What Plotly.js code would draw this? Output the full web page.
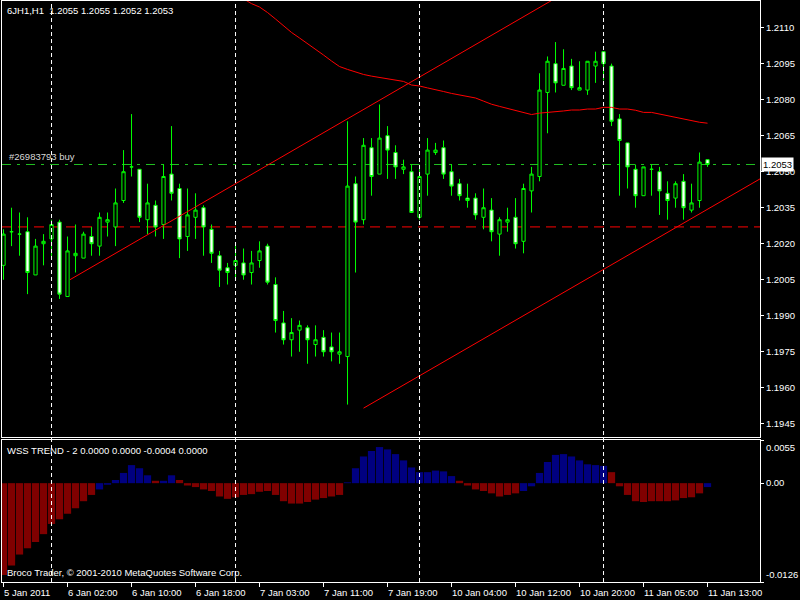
<!DOCTYPE html>
<html><head><meta charset="utf-8">
<script src="https://cdn.plot.ly/plotly-3.0.1.min.js"></script>
<style>html,body{margin:0;padding:0;background:#000;}#chart{width:800px;height:600px;}</style>
</head><body><div id="chart"></div>
<script>
// ---------- data ----------
const symbolTitle = '6JH1,H1\u00a0 1.2055 1.2055 1.2052 1.2053';
const indicatorTitle = 'WSS TREND - 2 0.0000 0.0000 -0.0004 0.0000';
const copyrightText = 'Broco Trader, \u00a9 2001-2010 MetaQuotes Software Corp.';
const orderLabel = '#26983793 buy';

const opens = [1.2011,1.2025,1.2024,1.2025,1.2007,1.2020,1.2022,1.2029,1.1998,1.2015,
1.2014,1.2023,1.2019,1.2029,1.2027,1.2038,1.2052,1.2051,1.2030,1.2036,
1.2028,1.2049,1.2043,1.2023,1.2031,1.2035,1.2026,1.2015,1.2010,1.2011,
1.2012,1.2008,1.2013,1.2019,1.2003,1.1987,1.1980,1.1984,1.1985,1.1978,
1.1981,1.1977,1.1974,1.1973,1.2045,1.2030,1.2060,1.2049,1.2065,1.2058,
1.2051,1.2050,1.2031,1.2049,1.2058,1.2060,1.2050,1.2045,1.2039,1.2039,
1.2031,1.2034,1.2024,1.2029,1.2031,1.2021,1.2042,1.2048,1.2083,1.2095,
1.2086,1.2094,1.2084,1.2084,1.2094,1.2100,1.2094,1.2072,1.2062,1.2051,
1.2040,1.2051,1.2050,1.2041,1.2039,1.2046,1.2034,1.2038,1.2055];
const highs = [1.2026,1.2035,1.2033,1.2031,1.2022,1.2024,1.2030,1.2030,1.2023,1.2028,
1.2025,1.2027,1.2033,1.2033,1.2043,1.2059,1.2074,1.2051,1.2045,1.2038,
1.2053,1.2069,1.2045,1.2043,1.2041,1.2036,1.2028,1.2017,1.2012,1.2020,
1.2018,1.2017,1.2021,1.2020,1.2006,1.1992,1.1989,1.1988,1.1986,1.1986,
1.1984,1.1983,1.1983,1.2071,1.2048,1.2064,1.2064,1.2078,1.2069,1.2061,
1.2055,1.2053,1.2053,1.2064,1.2062,1.2063,1.2053,1.2047,1.2045,1.2041,
1.2043,1.2039,1.2031,1.2035,1.2039,1.2045,1.2052,1.2091,1.2098,1.2104,
1.2101,1.2097,1.2096,1.2096,1.2100,1.2100,1.2095,1.2074,1.2062,1.2053,
1.2052,1.2053,1.2052,1.2046,1.2046,1.2049,1.2045,1.2058,1.2055];
const lows = [1.2005,1.2019,1.2015,1.1999,1.2007,1.2011,1.2014,1.1997,1.1998,1.2008,
1.2014,1.2015,1.2015,1.2023,1.2019,1.2037,1.2048,1.2029,1.2024,1.2023,
1.2022,1.2038,1.2014,1.2017,1.2022,1.2015,1.2012,1.2002,1.2003,1.2005,
1.2005,1.2003,1.2010,1.2003,1.1983,1.1978,1.1973,1.1975,1.1970,1.1973,
1.1973,1.1971,1.1970,1.1953,1.2008,1.2028,1.2040,1.2049,1.2047,1.2047,
1.2049,1.2033,1.2030,1.2040,1.2057,1.2047,1.2040,1.2038,1.2035,1.2030,
1.2026,1.2021,1.2015,1.2025,1.2018,1.2016,1.2033,1.2046,1.2066,1.2083,
1.2086,1.2084,1.2084,1.2082,1.2087,1.2088,1.2069,1.2040,1.2043,1.2035,
1.2040,1.2040,1.2032,1.2030,1.2035,1.2030,1.2033,1.2035,1.2052];
const closes = [1.2024,1.2025,1.2024,1.2008,1.2019,1.2021,1.2028,1.1999,1.2017,1.2016,
1.2024,1.2020,1.2031,1.2030,1.2037,1.2050,1.2052,1.2031,1.2037,1.2027,
1.2048,1.2041,1.2022,1.2032,1.2034,1.2027,1.2016,1.2009,1.2008,1.2013,
1.2007,1.2012,1.2017,1.2004,1.1988,1.1980,1.1983,1.1986,1.1980,1.1980,
1.1975,1.1975,1.1975,1.2044,1.2029,1.2061,1.2048,1.2064,1.2059,1.2052,
1.2052,1.2033,1.2048,1.2059,1.2059,1.2049,1.2044,1.2040,1.2038,1.2032,
1.2035,1.2025,1.2030,1.2030,1.2020,1.2043,1.2049,1.2084,1.2096,1.2087,
1.2093,1.2085,1.2085,1.2096,1.2096,1.2095,1.2071,1.2063,1.2052,1.2040,
1.2052,1.2051,1.2042,1.2038,1.2045,1.2035,1.2037,1.2054,1.2053];

// moving average, first value at bar maStartBar
const maStartBar = 30;
const maValues = [1.2122,1.2120,1.21186,1.21163,1.21136,1.21107,1.2108,1.21057,1.21034,1.21011,
1.20986,1.20961,1.20938,1.20926,1.20915,1.20905,1.20898,1.20892,1.20886,1.20881,
1.20876,1.20861,1.20857,1.20849,1.20843,1.20834,1.20826,1.20819,1.20815,1.20807,
1.20794,1.20781,1.20772,1.20763,1.20753,1.20744,1.20738,1.20744,1.20747,1.20747,
1.20753,1.20757,1.20757,1.20761,1.20761,1.20768,1.20768,1.20761,1.20761,1.20756,
1.20747,1.20747,1.2074,1.20733,1.20725,1.20719,1.20711,1.20706,1.20702];

// trend channel anchors (bar position, price)
const upperLineBars = [8.3, 70];
const upperLinePrices = [1.2005, 1.21242];
const lowerLineBars = [45, 94.56];
const lowerLinePrices = [1.19515, 1.2047];

const orderPrice = 1.2053;
const stopPrice = 1.2027;
const bidPrice = 1.2053;
const bidLabel = '1.2053';

const daySeparatorBars = [6, 29, 52, 75];

const priceTicks = [1.1945,1.1960,1.1975,1.1990,1.2005,1.2020,1.2035,1.2050,1.2065,1.2080,1.2095,1.2110];
const priceTickLabels = ['1.1945','1.1960','1.1975','1.1990','1.2005','1.2020','1.2035','1.2050','1.2065','1.2080','1.2095','1.2110'];

const timeTickBars = [0,8,16,24,32,40,48,56,64,72,80,88];
const timeTickLabels = ['5 Jan 2011','6 Jan 02:00','6 Jan 10:00','6 Jan 18:00','7 Jan 03:00','7 Jan 11:00',
'7 Jan 19:00','10 Jan 04:00','10 Jan 12:00','10 Jan 20:00','11 Jan 05:00','11 Jan 13:00'];

// WSS TREND histogram
const trendValues = [-0.0117,-0.0105,-0.0091,-0.0083,-0.0075,-0.0065,-0.0052,-0.0046,-0.0039,-0.0032,
-0.0023,-0.0015,-0.0008,-0.0002,0.0004,0.0013,0.0023,0.0019,0.0010,0.0003,
0.0003,0.0010,0.0004,-0.0003,-0.0005,-0.0008,-0.0010,-0.0017,-0.0020,-0.0018,
-0.0015,-0.0014,-0.0011,-0.0010,-0.0015,-0.0023,-0.0026,-0.0026,-0.0024,-0.0021,
-0.0019,-0.0017,-0.0015,0.0001,0.0019,0.0034,0.0041,0.0046,0.0043,0.0037,
0.0029,0.0020,0.0014,0.0014,0.0016,0.0015,0.0009,0.0003,-0.0003,-0.0008,
-0.0010,-0.0013,-0.0017,-0.0015,-0.0013,-0.0010,-0.0004,0.0013,0.0027,0.0036,
0.0037,0.0034,0.0029,0.0024,0.0023,0.0022,0.0014,-0.0004,-0.0015,-0.0023,
-0.0024,-0.0023,-0.0023,-0.0023,-0.0022,-0.0019,-0.0018,-0.0013,-0.0005];
const trendState = 'dddddddddddduuuuuuuduuddddddddddddddddddddduuuuuuuuuuuuuudddddddduuuuuuuuuuudddddddddddduu'.split('');
const trendAxisTicks = [-0.0126, 0, 0.0055];
const trendAxisLabels = ['-0.0126', '0.00', '0.0055'];

// ---------- build ----------
const bars = opens.map((_, i) => i);
const maBars = maValues.map((_, i) => maStartBar + i);
const FONT = 'Liberation Sans, Arial, sans-serif';
const BULL = '#00ff00';

const traces = [
  {type:'candlestick', x:bars, open:opens, high:highs, low:lows, close:closes,
   xaxis:'x', yaxis:'y', whiskerwidth:0, hoverinfo:'skip',
   increasing:{line:{color:BULL, width:1}, fillcolor:'#000000'},
   decreasing:{line:{color:BULL, width:1}, fillcolor:'#ffffff'}},
  {type:'scatter', mode:'lines', x:maBars, y:maValues, xaxis:'x', yaxis:'y',
   line:{color:'#ff0000', width:1}, hoverinfo:'skip'},
  {type:'scatter', mode:'lines', x:upperLineBars, y:upperLinePrices, xaxis:'x', yaxis:'y',
   line:{color:'#ff0000', width:1}, hoverinfo:'skip'},
  {type:'scatter', mode:'lines', x:lowerLineBars, y:lowerLinePrices, xaxis:'x', yaxis:'y',
   line:{color:'#ff0000', width:1}, hoverinfo:'skip'},
  {type:'bar', x:bars, y:trendValues, xaxis:'x2', yaxis:'y2', width:0.9,
   marker:{color:trendState.map(s => s === 'u' ? '#000080' : '#800000'), line:{width:0}},
   hoverinfo:'skip'}
];

const shapes = [];
daySeparatorBars.forEach(b => shapes.push({type:'line', xref:'x', yref:'paper', x0:b, x1:b, y0:0, y1:1,
  line:{color:'#ffffff', width:1, dash:'4px,3px'}, layer:'above'}));
shapes.push({type:'line', xref:'paper', yref:'y', x0:0, x1:1, y0:orderPrice, y1:orderPrice,
  line:{color:'#22c022', width:1, dash:'9px,6px,3px,6px'}, layer:'below'});
shapes.push({type:'line', xref:'paper', yref:'y', x0:0, x1:1, y0:stopPrice, y1:stopPrice,
  line:{color:'#ff0000', width:1, dash:'10px,6px'}, layer:'below'});

const txt = (size, color) => ({family:FONT, size:size, color:color});
const annotations = [
  {text:symbolTitle, xref:'paper', yref:'paper', x:0, y:1, xanchor:'left', yanchor:'top',
   xshift:3, yshift:-2, showarrow:false, font:txt(9.5,'#ffffff')},
  {text:indicatorTitle, xref:'paper', yref:'y2 domain', x:0, y:1, xanchor:'left', yanchor:'top',
   xshift:3, yshift:-3, showarrow:false, font:txt(9.5,'#ffffff')},
  {text:copyrightText, xref:'paper', yref:'y2 domain', x:0, y:0, xanchor:'left', yanchor:'bottom',
   xshift:3, yshift:2, showarrow:false, font:txt(9.5,'#ffffff')},
  {text:orderLabel, xref:'paper', yref:'y', x:0, y:orderPrice, xanchor:'left', yanchor:'bottom',
   xshift:5, yshift:0, showarrow:false, font:txt(9.5,'#d8d8d8')},
  {text:bidLabel, xref:'paper', yref:'y', x:1, y:bidPrice, xanchor:'left', yanchor:'middle',
   xshift:1, showarrow:false, bgcolor:'#ffffff', borderpad:1, font:txt(9.5,'#000000')},
  {text:trendAxisLabels[2], xref:'paper', yref:'y2', x:1, y:trendAxisTicks[2], xanchor:'left', yanchor:'top',
   xshift:4, yshift:0, showarrow:false, font:txt(9.5,'#ffffff')},
  {text:trendAxisLabels[0], xref:'paper', yref:'y2', x:1, y:trendAxisTicks[0], xanchor:'left', yanchor:'bottom',
   xshift:4, yshift:0, showarrow:false, font:txt(9.5,'#ffffff')}
];
timeTickBars.forEach((b, i) => annotations.push({text:timeTickLabels[i], xref:'x2', yref:'paper', x:b, y:0,
  xanchor:'left', yanchor:'top', xshift:-2, yshift:-3, showarrow:false, font:txt(9.5,'#ffffff')}));

const axisCommon = {showgrid:false, zeroline:false, showline:true, mirror:true, linecolor:'#ffffff', linewidth:1};
const layout = {
  width:800, height:600, paper_bgcolor:'#000000', plot_bgcolor:'#000000',
  margin:{l:2, r:40, t:1, b:18}, showlegend:false, dragmode:false, boxgap:0.42,
  xaxis:Object.assign({}, axisCommon, {anchor:'y', range:[-0.19, 94.56], showticklabels:false, ticks:'',
    rangeslider:{visible:false}, fixedrange:true}),
  xaxis2:Object.assign({}, axisCommon, {anchor:'y2', matches:'x', range:[-0.19, 94.56], showticklabels:false,
    ticks:'outside', ticklen:4, tickcolor:'#ffffff', tickvals:timeTickBars, fixedrange:true}),
  yaxis:Object.assign({}, axisCommon, {domain:[0.2496, 1], side:'right', anchor:'x', range:[1.19395, 1.21211],
    tickvals:priceTicks, ticktext:priceTickLabels, ticks:'outside', ticklen:3, tickcolor:'#ffffff',
    tickfont:txt(9.5,'#ffffff'), fixedrange:true}),
  yaxis2:Object.assign({}, axisCommon, {domain:[0, 0.2444], side:'right', anchor:'x2', range:[-0.0126, 0.0055],
    tickvals:trendAxisTicks, ticktext:['', trendAxisLabels[1], ''], ticks:'outside', ticklen:3, tickcolor:'#ffffff',
    tickfont:txt(9.5,'#ffffff'), fixedrange:true}),
  shapes:shapes, annotations:annotations
};
Plotly.newPlot('chart', traces, layout, {staticPlot:true, displayModeBar:false});
</script></body></html>
